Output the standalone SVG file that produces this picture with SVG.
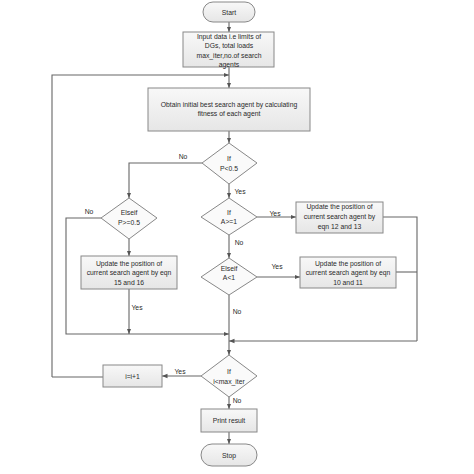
<svg xmlns="http://www.w3.org/2000/svg" width="474" height="474" viewBox="0 0 474 474">
<defs>
<linearGradient id="g" x1="0" y1="0" x2="0" y2="1"><stop offset="0" stop-color="#f8f8f8"/><stop offset="1" stop-color="#e6e6e6"/></linearGradient>
<marker id="a" viewBox="0 0 10 10" refX="10" refY="5" markerWidth="5" markerHeight="5" orient="auto"><path d="M0,1 L10,5 L0,9 z" fill="#555"/></marker>
<style>
.b{fill:url(#g);stroke:#888;stroke-width:1}
.d{fill:#fafafa;stroke:#888;stroke-width:1}
.c{fill:none;stroke:#666;stroke-width:1.1}
.ar{marker-end:url(#a)}
text{font-family:"Liberation Sans",Arial,sans-serif;font-size:6.8px;fill:#2a2a2a;text-anchor:middle}
</style>
</defs>
<rect width="474" height="474" fill="#fff"/>
<g id="connectors">
<path class="c ar" d="M229,22 V32"/>
<path class="c ar" d="M52,377 V75 H229"/>
<path class="c ar" d="M229,67 V88"/>
<path class="c ar" d="M229,131 V143"/>
<path class="c ar" d="M202,163 H129 V198"/>
<path class="c ar" d="M229,184 V198"/>
<path class="c ar" d="M257,217 H296"/>
<path class="c ar" d="M229,235 V258"/>
<path class="c ar" d="M129,239 V256"/>
<path class="c ar" d="M257,277 H300"/>
<path class="c ar" d="M101,218 H66 V334 H229"/>
<path class="c ar" d="M129,289 V334"/>
<path class="c" d="M383,217 H417 V341"/>
<path class="c" d="M396,272 H417"/>
<path class="c ar" d="M417,341 H229"/>
<path class="c ar" d="M229,295 V355"/>
<path class="c ar" d="M201,376 H162"/>
<path class="c" d="M103,377 H52"/>
<path class="c ar" d="M229,397 V409"/>
<path class="c ar" d="M229,432 V444"/>
<text x="183" y="159">No</text>
<text x="240" y="194">Yes</text>
<text x="89" y="214">No</text>
<text x="275" y="216">Yes</text>
<text x="239" y="245">No</text>
<text x="277" y="269">Yes</text>
<text x="137" y="310">Yes</text>
<text x="237" y="314">No</text>
<text x="180" y="374">Yes</text>
<text x="237" y="403">No</text>
</g>
<g id="start"><rect class="b" x="203" y="2" width="52" height="20" rx="10"/><text x="229" y="14.5">Start</text></g>
<g id="input"><rect class="b" x="183" y="32" width="91" height="35"/>
<text x="229" y="39">Input data i.e limits of</text><text x="229" y="48">DGs, total loads</text><text x="229" y="58">max_iter,no.of search</text><text x="229" y="67">agents</text></g>
<g id="obtain"><rect class="b" x="148" y="88" width="162" height="43"/>
<text x="229" y="107">Obtain initial best search agent by calculating</text><text x="229" y="116">fitness of each agent</text></g>
<g id="if1"><polygon class="d" points="229,143 257,163 229,184 202,163"/><text x="229" y="161">If</text><text x="229" y="171">P&lt;0.5</text></g>
<g id="elseif1"><polygon class="d" points="129,198 157,218 129,239 101,218"/><text x="129" y="215">Elseif</text><text x="129" y="225">P&gt;=0.5</text></g>
<g id="if2"><polygon class="d" points="229,198 257,217 229,235 201,217"/><text x="229" y="215">If</text><text x="229" y="224">A&gt;=1</text></g>
<g id="upd1213"><rect class="b" x="296" y="202" width="87" height="31"/>
<text x="339.5" y="209">Update the position of</text><text x="339.5" y="219">current search agent by</text><text x="339.5" y="229">eqn 12 and 13</text></g>
<g id="elseif2"><polygon class="d" points="229,258 257,277 229,295 201,277"/><text x="229" y="271">Elseif</text><text x="229" y="280">A&lt;1</text></g>
<g id="upd1011"><rect class="b" x="300" y="257" width="96" height="31"/>
<text x="348" y="266">Update the position of</text><text x="348" y="275">current search agent by eqn</text><text x="348" y="285">10 and 11</text></g>
<g id="upd1516"><rect class="b" x="81" y="256" width="96" height="33"/>
<text x="129" y="266">Update the position of</text><text x="129" y="275">current search agent by eqn</text><text x="129" y="285">15 and 16</text></g>
<g id="if3"><polygon class="d" points="229,355 257,376 229,397 201,376"/><text x="229" y="374">If</text><text x="229" y="384">i&lt;max_iter</text></g>
<g id="incr"><rect class="b" x="103" y="365" width="59" height="22"/><text x="132.5" y="378.5">i=i+1</text></g>
<g id="print"><rect class="b" x="201" y="409" width="56" height="23"/><text x="229" y="423">Print result</text></g>
<g id="stop"><rect class="b" x="201" y="444" width="56" height="22" rx="11"/><text x="229" y="457.5">Stop</text></g>
</svg>
